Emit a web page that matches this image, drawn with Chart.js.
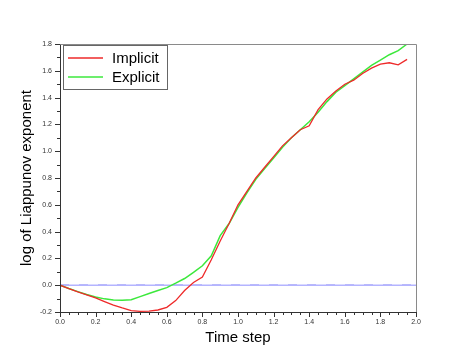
<!DOCTYPE html>
<html><head><meta charset="utf-8">
<script src="https://cdn.jsdelivr.net/npm/chart.js@4/dist/chart.umd.min.js"></script>
<style>html,body{margin:0;padding:0;background:#fff}#wrap{width:474px;height:357px}</style>
</head><body><div id="wrap"><canvas id="c" width="474" height="357"></canvas></div>
<script>
const timeSteps = [0,0.05,0.1,0.15,0.2,0.25,0.3,0.35,0.4,0.45,0.5,0.55,0.6,0.65,0.7,0.75,0.8,0.85,0.9,0.95,1.0,1.05,1.1,1.15,1.2,1.25,1.3,1.35,1.4,1.45,1.5,1.55,1.6,1.65,1.7,1.75,1.8,1.85,1.9,1.95];
const implicitVals = [0,-0.025,-0.05,-0.072,-0.095,-0.122,-0.148,-0.17,-0.19,-0.195,-0.193,-0.185,-0.165,-0.115,-0.04,0.02,0.06,0.19,0.33,0.46,0.6,0.7,0.8,0.88,0.96,1.04,1.1,1.16,1.19,1.31,1.39,1.45,1.5,1.53,1.58,1.62,1.65,1.66,1.645,1.685];
const explicitVals = [0,-0.025,-0.048,-0.07,-0.088,-0.102,-0.11,-0.112,-0.108,-0.085,-0.062,-0.04,-0.018,0.015,0.05,0.095,0.145,0.22,0.37,0.46,0.58,0.69,0.79,0.87,0.95,1.03,1.1,1.16,1.22,1.29,1.37,1.44,1.49,1.54,1.59,1.64,1.68,1.72,1.75,1.8];
const zeroLineX = [0, 2];
const zeroLineY = [0, 0];
const seriesNames = ['Implicit', 'Explicit'];
const xTickValues = [0,0.2,0.4,0.6,0.8,1.0,1.2,1.4,1.6,1.8,2.0];
const yTickValues = [-0.2,0,0.2,0.4,0.6,0.8,1.0,1.2,1.4,1.6,1.8];
const xMinorStep = 0.05;
const yMinorStep = 0.1;

const pts = (xs, ys) => xs.map((x, i) => ({x: x, y: ys[i]}));

const boxAndTicks = {
  id: 'boxAndTicks',
  afterDraw(chart) {
    const ctx = chart.ctx, a = chart.chartArea;
    const xs = chart.scales.x, ys = chart.scales.y;
    ctx.save();
    ctx.lineWidth = 1;
    ctx.strokeStyle = '#8a8a8a';
    ctx.beginPath();
    ctx.moveTo(a.left + 0.5, a.top + 0.5);
    ctx.lineTo(a.right + 0.5, a.top + 0.5);
    ctx.lineTo(a.right + 0.5, a.bottom + 0.5);
    ctx.stroke();
    ctx.strokeStyle = '#333';
    ctx.beginPath();
    ctx.moveTo(a.left + 0.5, a.top + 0.5);
    ctx.lineTo(a.left + 0.5, a.bottom + 0.5);
    ctx.lineTo(a.right + 0.5, a.bottom + 0.5);
    ctx.stroke();
    ctx.beginPath();
    for (let k = 0; k <= Math.round((xs.max - xs.min) / xMinorStep); k++) {
      const v = xs.min + k * xMinorStep;
      const major = Math.abs(v / 0.2 - Math.round(v / 0.2)) < 1e-6;
      const px = Math.round(xs.getPixelForValue(v)) + 0.5;
      ctx.moveTo(px, a.bottom);
      ctx.lineTo(px, a.bottom + (major ? 5 : 3));
    }
    for (let k = 0; k <= Math.round((ys.max - ys.min) / yMinorStep); k++) {
      const v = ys.min + k * yMinorStep;
      const major = Math.abs(v / 0.2 - Math.round(v / 0.2)) < 1e-6;
      const py = Math.round(ys.getPixelForValue(v)) + 0.5;
      ctx.moveTo(a.left, py);
      ctx.lineTo(a.left - (major ? 5 : 3), py);
    }
    ctx.stroke();
    // legend box
    const lx = a.left + 3, ly = a.top + 1, lw = 104, lh = 44;
    ctx.fillStyle = '#fff';
    ctx.fillRect(lx, ly, lw, lh);
    ctx.strokeStyle = '#666';
    ctx.strokeRect(lx + 0.5, ly + 0.5, lw, lh);
    ctx.font = '15px "Liberation Sans", Arial, sans-serif';
    ctx.textBaseline = 'middle';
    for (let i = 0; i < 2; i++) {
      const ds = chart.data.datasets[i];
      const yy = ly + 13 + i * 19;
      ctx.strokeStyle = ds.borderColor;
      ctx.lineWidth = 1.4;
      ctx.beginPath();
      ctx.moveTo(lx + 5, yy);
      ctx.lineTo(lx + 40, yy);
      ctx.stroke();
      ctx.fillStyle = '#000';
      ctx.fillText(ds.label, lx + 49, yy + 1);
    }
    ctx.restore();
  }
};

new Chart(document.getElementById('c'), {
  type: 'line',
  data: {
    datasets: [
      {label: seriesNames[0], data: pts(timeSteps, implicitVals), borderColor: '#ee2a2a', borderWidth: 1.3, pointRadius: 0, tension: 0, fill: false},
      {label: seriesNames[1], data: pts(timeSteps, explicitVals), borderColor: '#3ce83c', borderWidth: 1.5, pointRadius: 0, tension: 0, fill: false},
      {label: 'zero', data: pts(zeroLineX, zeroLineY), borderColor: '#b4b4ff', borderWidth: 1.5, pointRadius: 0, fill: false},
      {label: 'zero dash', data: pts(zeroLineX, zeroLineY), borderColor: '#7c7cf0', borderWidth: 1.3, borderDash: [9, 10], pointRadius: 0, fill: false}
    ]
  },
  options: {
    responsive: false,
    devicePixelRatio: 1,
    animation: false,
    layout: {padding: {left: 0, right: 58, top: 44, bottom: 0}},
    plugins: {legend: {display: false}, tooltip: {enabled: false}},
    scales: {
      x: {
        type: 'linear', min: 0, max: 2,
        afterBuildTicks: s => { s.ticks = xTickValues.map(v => ({value: v})); },
        afterFit: s => { s.height = 45; },
        grid: {display: false, drawTicks: false},
        border: {display: false},
        ticks: {padding: 6, color: '#333', font: {size: 7, family: '"Liberation Sans", Arial, sans-serif'}, callback: v => v.toFixed(1), maxRotation: 0, autoSkip: false},
        title: {display: true, text: 'Time step', color: '#000', font: {size: 15, family: '"Liberation Sans", Arial, sans-serif'}, padding: {top: 0, bottom: 10}}
      },
      y: {
        type: 'linear', min: -0.2, max: 1.8,
        afterBuildTicks: s => { s.ticks = yTickValues.map(v => ({value: v})); },
        afterFit: s => { s.width = 60; },
        grid: {display: false, drawTicks: false},
        border: {display: false},
        ticks: {padding: 8, color: '#333', font: {size: 7, family: '"Liberation Sans", Arial, sans-serif'}, callback: v => v.toFixed(1), autoSkip: false},
        title: {display: true, text: 'log of Liappunov exponent', color: '#000', font: {size: 15, family: '"Liberation Sans", Arial, sans-serif'}, padding: {top: 18, bottom: 0}}
      }
    }
  },
  plugins: [boxAndTicks]
});
</script>
</body></html>
